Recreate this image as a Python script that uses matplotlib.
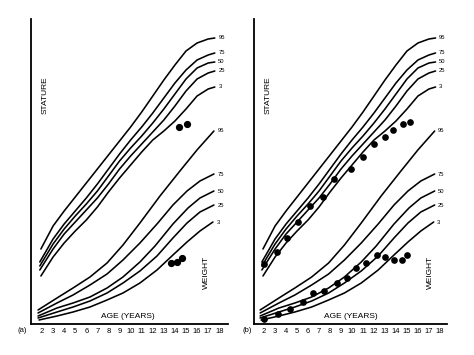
import matplotlib.pyplot as plt

plt.rcParams['font.family'] = 'Liberation Sans'

# stature percentile curves (age in years, height on chart in arbitrary units)
st95_age = [1.9, 3, 4, 5, 6, 7, 8, 9, 10, 11, 12, 13, 14, 15, 16, 17, 17.6]
st95_val = [75, 98, 113, 127, 141, 155, 169, 183, 197, 212, 228, 244, 259, 273, 281, 285, 286]
st75_age = [1.8, 3, 4, 5, 6, 7, 8, 9, 10, 11, 12, 13, 14, 15, 16, 17, 17.6]
st75_val = [62, 85, 100, 113, 126, 140, 155, 170, 184, 197, 211, 226, 241, 254, 264, 269, 271]
st50_age = [1.8, 3, 4, 5, 6, 7, 8, 9, 10, 11, 12, 13, 14, 15, 16, 17, 17.6]
st50_val = [58, 80, 95, 108, 120, 133, 148, 163, 176, 188, 201, 215, 230, 245, 256, 261, 262]
st25_age = [1.8, 3, 4, 5, 6, 7, 8, 9, 10, 11, 12, 13, 14, 15, 16, 17, 17.6]
st25_val = [54, 75, 90, 102, 114, 126, 140, 155, 168, 180, 192, 204, 218, 233, 245, 251, 253]
st3_age = [1.9, 3, 4, 5, 6, 7, 8, 9, 10, 11, 12, 13, 14, 15, 16, 17, 17.6]
st3_val = [48, 67, 81, 93, 104, 117, 132, 146, 159, 172, 184, 193, 203, 215, 228, 235, 237]

# weight percentile curves
wt95_age = [1.64, 3.35, 4.8, 6.33, 7.87, 9.31, 10.84, 12.65, 14.45, 15.99, 17.52]
wt95_val = [14, 26, 36, 47, 61, 79, 101, 128, 153, 174, 193]
wt75_age = [1.64, 3.35, 4.8, 6.33, 7.87, 9.31, 10.84, 12.38, 13.82, 15.09, 16.26, 17.52]
wt75_val = [11, 21, 29, 39, 50, 64, 81, 100, 119, 133, 143, 150]
wt50_age = [1.64, 3.35, 4.8, 6.33, 7.87, 9.31, 10.84, 12.2, 13.82, 15.18, 16.26, 17.52]
wt50_val = [8, 16, 21, 27, 36, 47, 62, 78, 100, 116, 126, 133]
wt25_age = [1.64, 3.35, 4.8, 6.33, 7.87, 9.31, 10.84, 12.38, 13.82, 15.09, 16.26, 17.52]
wt25_val = [6, 12, 17, 23, 31, 41, 53, 68, 86, 101, 112, 119]
wt3_age = [1.73, 3.35, 4.8, 6.33, 7.87, 9.31, 10.84, 12.38, 13.82, 15.09, 16.26, 17.43]
wt3_val = [4, 8, 12, 17, 24, 31, 41, 54, 69, 82, 93, 102]

pct_labels = ['95', '75', '50', '25', '3']

# patient measurements
a_st_age = [14.36, 15.09]
a_st_val = [197, 200]
a_wt_age = [13.64, 14.18, 14.64]
a_wt_val = [61, 62, 66]

b_st_age = [2.0, 3.18, 4.09, 5.09, 6.18, 7.36, 8.36, 9.91, 11.0, 12.0, 13.0, 13.73, 14.64, 15.27]
b_st_val = [60, 72, 86, 102, 118, 127, 145, 155, 167, 180, 187, 194, 200, 202]
b_wt_age = [2.0, 3.27, 4.36, 5.55, 6.45, 7.45, 8.64, 9.55, 10.36, 11.27, 12.27, 13.0, 13.82, 14.55, 15.0]
b_wt_val = [5, 10, 15, 22, 31, 33, 41, 46, 56, 61, 69, 67, 64, 64, 69]

ages = list(range(2, 19))

stature = [(st95_age, st95_val), (st75_age, st75_val), (st50_age, st50_val),
           (st25_age, st25_val), (st3_age, st3_val)]
weight = [(wt95_age, wt95_val), (wt75_age, wt75_val), (wt50_age, wt50_val),
          (wt25_age, wt25_val), (wt3_age, wt3_val)]

fig = plt.figure(figsize=(4.74, 3.55), dpi=100)
ax_a = fig.add_axes([0.0654, 0.0873, 0.4156, 0.8592])
ax_b = fig.add_axes([0.536, 0.0873, 0.407, 0.8592])


def draw_panel(ax, xlim, st_age, st_val, wt_age, wt_val, lab_x, ms):
    for curves in (stature, weight):
        for (x, y), lab in zip(curves, pct_labels):
            ax.plot(x, y, color='black', lw=1.15, solid_capstyle='round',
                    solid_joinstyle='round')
            ax.annotate(lab, (x[-1], y[-1]), xytext=(2.5, 0), textcoords='offset points',
                        fontsize=4.2, va='center', ha='left')
    ax.plot(st_age, st_val, 'o', color='black', ms=ms)
    ax.plot(wt_age, wt_val, 'o', color='black', ms=ms)
    ax.set_xlim(*xlim)
    ax.set_ylim(0, 305)
    ax.set_xticks(ages)
    ax.set_xticklabels([str(a) for a in ages], fontsize=5.5)
    ax.tick_params(axis='x', length=0, pad=3)
    ax.set_yticks([])
    for s in ('top', 'right'):
        ax.spines[s].set_visible(False)
    for s in ('left', 'bottom'):
        ax.spines[s].set_linewidth(1.3)
    ax.text(lab_x[0], 0.75, 'STATURE', rotation=90, fontsize=6,
            transform=ax.transAxes, ha='center', va='center')
    ax.text(lab_x[1], 0.17, 'WEIGHT', rotation=90, fontsize=6,
            transform=ax.transAxes, ha='center', va='center')
    ax.text(lab_x[2], 0.024, 'AGE (YEARS)', fontsize=6,
            transform=ax.transAxes, ha='center', va='center')


draw_panel(ax_a, (1.007, 18.79), a_st_age, a_st_val, a_wt_age, a_wt_val, (0.071, 0.893, 0.492), 4.2)
draw_panel(ax_b, (1.09, 18.64), b_st_age, b_st_val, b_wt_age, b_wt_val, (0.073, 0.912, 0.503), 3.8)

fig.text(22 / 474, 1 - 331 / 355, '(a)', fontsize=5.5, ha='center', va='center')
fig.text(247 / 474, 1 - 331 / 355, '(b)', fontsize=5.5, ha='center', va='center')

fig.savefig('out.png', dpi=100)
